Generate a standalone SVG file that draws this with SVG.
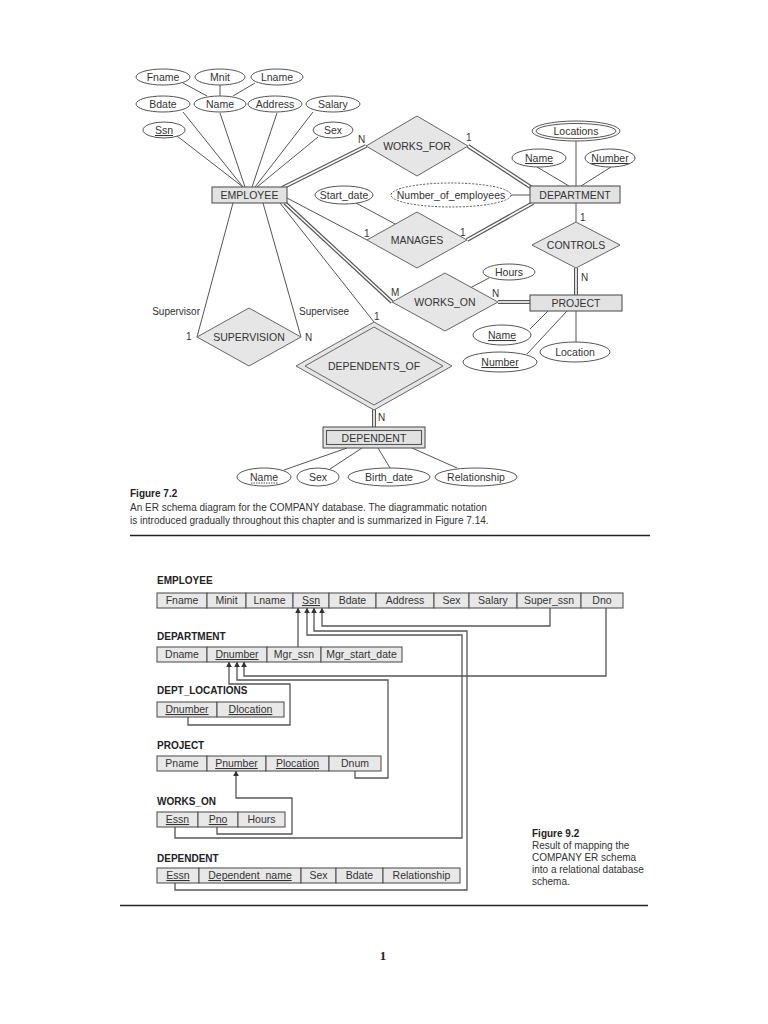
<svg xmlns="http://www.w3.org/2000/svg" width="768" height="1024" viewBox="0 0 768 1024">
<defs>
<marker id="arr" viewBox="0 0 10 10" refX="9" refY="5" markerWidth="6" markerHeight="6" markerUnits="userSpaceOnUse" orient="auto">
<path d="M0,0 L10,5 L0,10 z" fill="#333"/>
</marker>
<style>
text{font-family:"Liberation Sans",Arial,sans-serif;fill:#333;}
.t{font-size:10.5px;text-anchor:middle;}
.s{font-size:10px;}
.b{font-size:10px;font-weight:bold;fill:#222;}
.u{text-decoration:underline;}
.ln{stroke:#555;stroke-width:1;fill:none;}
.dbl{stroke:#555;stroke-width:4;fill:none;}
.dblw{stroke:#fff;stroke-width:1.6;fill:none;}
.ent{fill:#e2e2e2;stroke:#555;stroke-width:1.1;}
.rel{fill:#e6e6e6;stroke:#666;stroke-width:1;}
.att{fill:#fff;stroke:#555;stroke-width:1;}
.cell{fill:#e8e8e8;stroke:#555;stroke-width:1.1;}
.fk{stroke:#555;stroke-width:1.3;fill:none;marker-end:url(#arr);}
.rule{stroke:#222;stroke-width:1.5;}
</style>
</defs>
<rect width="768" height="1024" fill="#fff"/>

<!-- ER connectors -->
<g id="er-connectors">
<line class="ln" x1="183" y1="83" x2="207" y2="96"/>
<line class="ln" x1="220" y1="85" x2="220" y2="96"/>
<line class="ln" x1="255" y1="83" x2="233" y2="96"/>
<line class="ln" x1="183" y1="112" x2="243" y2="187"/>
<line class="ln" x1="220" y1="113" x2="245" y2="187"/>
<line class="ln" x1="277" y1="113" x2="252" y2="187"/>
<line class="ln" x1="313" y1="112" x2="255" y2="187"/>
<line class="ln" x1="177" y1="136" x2="243" y2="187"/>
<line class="ln" x1="318" y1="137" x2="257" y2="187"/>
<line class="dbl" x1="282" y1="188" x2="366" y2="146"/>
<line class="dblw" x1="282" y1="188" x2="366" y2="146"/>
<line class="dbl" x1="468" y1="146" x2="532" y2="188"/>
<line class="dblw" x1="468" y1="146" x2="532" y2="188"/>
<line class="ln" x1="576" y1="141" x2="576" y2="186"/>
<line class="ln" x1="537" y1="167" x2="569" y2="186"/>
<line class="ln" x1="611" y1="167" x2="581" y2="186"/>
<line class="ln" x1="511" y1="195" x2="530" y2="195"/>
<line class="ln" x1="287" y1="198" x2="367" y2="240"/>
<line class="ln" x1="356" y1="203" x2="397" y2="225"/>
<line class="dbl" x1="467" y1="240" x2="533" y2="203"/>
<line class="dblw" x1="467" y1="240" x2="533" y2="203"/>
<line class="ln" x1="576" y1="203" x2="576" y2="222"/>
<line class="dbl" x1="576" y1="268" x2="576" y2="295"/>
<line class="dblw" x1="576" y1="268" x2="576" y2="295"/>
<line class="dbl" x1="285" y1="203" x2="392" y2="302"/>
<line class="dblw" x1="285" y1="203" x2="392" y2="302"/>
<line class="ln" x1="280" y1="203" x2="374" y2="322"/>
<line class="ln" x1="489" y1="278" x2="470" y2="288"/>
<line class="dbl" x1="498" y1="302" x2="530" y2="302"/>
<line class="dblw" x1="498" y1="302" x2="530" y2="302"/>
<line class="ln" x1="530" y1="329" x2="548" y2="311"/>
<line class="ln" x1="527" y1="354" x2="567" y2="311"/>
<line class="ln" x1="576" y1="342" x2="576" y2="311"/>
<line class="ln" x1="233" y1="203" x2="197" y2="337"/>
<line class="ln" x1="263" y1="203" x2="301" y2="337"/>
<line class="dbl" x1="374" y1="408" x2="374" y2="427"/>
<line class="dblw" x1="374" y1="408" x2="374" y2="427"/>
<line class="ln" x1="284" y1="470" x2="347" y2="448"/>
<line class="ln" x1="330" y1="469" x2="362" y2="448"/>
<line class="ln" x1="390" y1="468" x2="378" y2="448"/>
<line class="ln" x1="457" y1="468" x2="412" y2="448"/>
</g>

<!-- attributes -->
<g id="attr-fname"><ellipse class="att" cx="163" cy="77" rx="27" ry="8"/><text class="t" x="163" y="81">Fname</text></g>
<g id="attr-minit"><ellipse class="att" cx="220" cy="77" rx="25" ry="8"/><text class="t" x="220" y="81">Mnit</text></g>
<g id="attr-lname"><ellipse class="att" cx="277" cy="77" rx="26" ry="8"/><text class="t" x="277" y="81">Lname</text></g>
<g id="attr-bdate"><ellipse class="att" cx="163" cy="104" rx="27" ry="8"/><text class="t" x="163" y="108">Bdate</text></g>
<g id="attr-name"><ellipse class="att" cx="220" cy="104" rx="26" ry="8"/><text class="t" x="220" y="108">Name</text></g>
<g id="attr-address"><ellipse class="att" cx="275" cy="104" rx="27" ry="8"/><text class="t" x="275" y="108">Address</text></g>
<g id="attr-salary"><ellipse class="att" cx="333" cy="104" rx="27" ry="8"/><text class="t" x="333" y="108">Salary</text></g>
<g id="attr-ssn"><ellipse class="att" cx="164" cy="130" rx="21" ry="8"/><text class="t u" x="164" y="134">Ssn</text></g>
<g id="attr-sex"><ellipse class="att" cx="333" cy="130" rx="20" ry="8"/><text class="t" x="333" y="134">Sex</text></g>
<g id="attr-startdate"><ellipse class="att" cx="344" cy="195" rx="29" ry="9"/><text class="t" x="344" y="199">Start_date</text></g>
<g id="attr-locations"><ellipse class="att" cx="576" cy="131" rx="44" ry="10"/><ellipse class="att" cx="576" cy="131" rx="40" ry="7.5"/><text class="t" x="576" y="135">Locations</text></g>
<g id="attr-dname"><ellipse class="att" cx="539" cy="158" rx="27" ry="9"/><text class="t u" x="539" y="162">Name</text></g>
<g id="attr-dnumber"><ellipse class="att" cx="610" cy="158" rx="25" ry="9"/><text class="t u" x="610" y="162">Number</text></g>
<g id="attr-numemp"><ellipse class="att" cx="451" cy="195" rx="60" ry="12" stroke-dasharray="2,1.5"/><text class="t" x="451" y="199">Number_of_employees</text></g>
<g id="attr-hours"><ellipse class="att" cx="509" cy="272" rx="26" ry="8"/><text class="t" x="509" y="276">Hours</text></g>
<g id="attr-pname"><ellipse class="att" cx="502" cy="335" rx="29" ry="10"/><text class="t u" x="502" y="339">Name</text></g>
<g id="attr-pnumber"><ellipse class="att" cx="500" cy="362" rx="37" ry="10"/><text class="t u" x="500" y="366">Number</text></g>
<g id="attr-plocation"><ellipse class="att" cx="575" cy="352" rx="35" ry="10"/><text class="t" x="575" y="356">Location</text></g>
<g id="attr-depname"><ellipse class="att" cx="264" cy="477" rx="27" ry="9"/><text class="t" x="264" y="481">Name</text><line x1="251" y1="483" x2="278" y2="483" stroke="#444" stroke-width="0.9" stroke-dasharray="1.5,1"/></g>
<g id="attr-depsex"><ellipse class="att" cx="318" cy="477" rx="21" ry="9"/><text class="t" x="318" y="481">Sex</text></g>
<g id="attr-birthdate"><ellipse class="att" cx="389" cy="477" rx="41" ry="9"/><text class="t" x="389" y="481">Birth_date</text></g>
<g id="attr-relationship"><ellipse class="att" cx="476" cy="477" rx="41" ry="9"/><text class="t" x="476" y="481">Relationship</text></g>

<!-- entities -->
<g id="employee"><rect class="ent" x="212" y="187" width="75" height="16"/><text class="t" x="249.5" y="199">EMPLOYEE</text></g>
<g id="department"><rect class="ent" x="530" y="186" width="90" height="17"/><text class="t" x="575" y="198.5">DEPARTMENT</text></g>
<g id="project"><rect class="ent" x="530" y="295" width="92" height="16"/><text class="t" x="576" y="307">PROJECT</text></g>
<g id="dependent"><rect class="ent" x="323" y="427" width="102" height="21"/><rect class="ent" x="326.5" y="430.5" width="95" height="14"/><text class="t" x="374" y="441.5">DEPENDENT</text></g>

<!-- relationships -->
<g id="works-for"><polygon class="rel" points="366,146 417,116 468,146 417,176"/><text class="t" x="417" y="150">WORKS_FOR</text></g>
<g id="manages"><polygon class="rel" points="367,240 417,212 467,240 417,268"/><text class="t" x="417" y="244">MANAGES</text></g>
<g id="controls"><polygon class="rel" points="532,245 576,222 620,245 576,268"/><text class="t" x="576" y="249">CONTROLS</text></g>
<g id="works-on"><polygon class="rel" points="392,302 445,273 498,302 445,331"/><text class="t" x="445" y="306">WORKS_ON</text></g>
<g id="supervision"><polygon class="rel" points="197,337 249,308 301,337 249,366"/><text class="t" x="249" y="341">SUPERVISION</text></g>
<g id="dependents-of"><polygon class="rel" points="296,366 374,322 452,366 374,410"/><polygon class="rel" points="305,366 374,327 443,366 374,405"/><text class="t" x="374" y="370">DEPENDENTS_OF</text></g>

<!-- cardinality and role labels -->
<g id="er-labels">
<text class="s" x="358" y="143">N</text>
<text class="s" x="466" y="141">1</text>
<text class="s" x="364" y="237">1</text>
<text class="s" x="460" y="236">1</text>
<text class="s" x="580" y="221">1</text>
<text class="s" x="581" y="281">N</text>
<text class="s" x="391" y="296">M</text>
<text class="s" x="492" y="297">N</text>
<text class="s" x="374" y="320">1</text>
<text class="s" x="378" y="421">N</text>
<text class="s" x="200" y="315" text-anchor="end">Supervisor</text>
<text class="s" x="186" y="340">1</text>
<text class="s" x="299" y="315">Supervisee</text>
<text class="s" x="305" y="341">N</text>
</g>

<!-- caption 7.2 -->
<g id="caption-7-2">
<text class="b" x="130" y="497">Figure 7.2</text>
<text class="s" x="130" y="511">An ER schema diagram for the COMPANY database. The diagrammatic notation</text>
<text class="s" x="130" y="524">is introduced gradually throughout this chapter and is summarized in Figure 7.14.</text>
<line class="rule" x1="130" y1="535.5" x2="650" y2="535.5"/>
</g>

<!-- relational schema -->
<g id="rel-connectors">
<path class="fk" d="M298,647 V608"/>
<path class="fk" d="M550,608 V626 H322 V608"/>
<path class="fk" d="M175,827 V838 H462 V635 H307 V608"/>
<path class="fk" d="M175,883 V890 H467 V631 H314 V608"/>
<path class="fk" d="M606,608 V676 H244 V662"/>
<path class="fk" d="M355,771 V778 H388 V680 H237 V662"/>
<path class="fk" d="M188,717 V725 H290 V684 H229 V662"/>
<path class="fk" d="M217,827 V834 H292 V798 H236 V771"/>
</g>

<g id="t-employee">
<text class="b" x="157" y="584">EMPLOYEE</text>
<rect class="cell" x="157" y="593" width="50" height="15"/><text class="t" x="182" y="604">Fname</text>
<rect class="cell" x="207" y="593" width="39" height="15"/><text class="t" x="226.5" y="604">Minit</text>
<rect class="cell" x="246" y="593" width="47" height="15"/><text class="t" x="269.5" y="604">Lname</text>
<rect class="cell" x="293" y="593" width="36" height="15"/><text class="t u" x="311" y="604">Ssn</text>
<rect class="cell" x="329" y="593" width="47" height="15"/><text class="t" x="352.5" y="604">Bdate</text>
<rect class="cell" x="376" y="593" width="58" height="15"/><text class="t" x="405" y="604">Address</text>
<rect class="cell" x="434" y="593" width="35" height="15"/><text class="t" x="451.5" y="604">Sex</text>
<rect class="cell" x="469" y="593" width="48" height="15"/><text class="t" x="493" y="604">Salary</text>
<rect class="cell" x="517" y="593" width="64" height="15"/><text class="t" x="549" y="604">Super_ssn</text>
<rect class="cell" x="581" y="593" width="42" height="15"/><text class="t" x="602" y="604">Dno</text>
</g>

<g id="t-department">
<text class="b" x="157" y="640">DEPARTMENT</text>
<rect class="cell" x="157" y="647" width="50" height="15"/><text class="t" x="182" y="658">Dname</text>
<rect class="cell" x="207" y="647" width="60" height="15"/><text class="t u" x="237" y="658">Dnumber</text>
<rect class="cell" x="267" y="647" width="54" height="15"/><text class="t" x="294" y="658">Mgr_ssn</text>
<rect class="cell" x="321" y="647" width="81" height="15"/><text class="t" x="361.5" y="658">Mgr_start_date</text>
</g>

<g id="t-dept-locations">
<text class="b" x="157" y="694">DEPT_LOCATIONS</text>
<rect class="cell" x="157" y="702" width="60" height="15"/><text class="t u" x="187" y="713">Dnumber</text>
<rect class="cell" x="217" y="702" width="67" height="15"/><text class="t u" x="250.5" y="713">Dlocation</text>
</g>

<g id="t-project">
<text class="b" x="157" y="749">PROJECT</text>
<rect class="cell" x="157" y="756" width="50" height="15"/><text class="t" x="182" y="767">Pname</text>
<rect class="cell" x="207" y="756" width="59" height="15"/><text class="t u" x="236.5" y="767">Pnumber</text>
<rect class="cell" x="266" y="756" width="63" height="15"/><text class="t u" x="297.5" y="767">Plocation</text>
<rect class="cell" x="329" y="756" width="52" height="15"/><text class="t" x="355" y="767">Dnum</text>
</g>

<g id="t-works-on">
<text class="b" x="157" y="805">WORKS_ON</text>
<rect class="cell" x="157" y="812" width="41" height="15"/><text class="t u" x="177.5" y="823">Essn</text>
<rect class="cell" x="198" y="812" width="40" height="15"/><text class="t u" x="218" y="823">Pno</text>
<rect class="cell" x="238" y="812" width="47" height="15"/><text class="t" x="261.5" y="823">Hours</text>
</g>

<g id="t-dependent">
<text class="b" x="157" y="862">DEPENDENT</text>
<rect class="cell" x="157" y="868" width="42" height="15"/><text class="t u" x="178" y="879">Essn</text>
<rect class="cell" x="199" y="868" width="102" height="15"/><text class="t u" x="250" y="879">Dependent_name</text>
<rect class="cell" x="301" y="868" width="35" height="15"/><text class="t" x="318.5" y="879">Sex</text>
<rect class="cell" x="336" y="868" width="47" height="15"/><text class="t" x="359.5" y="879">Bdate</text>
<rect class="cell" x="383" y="868" width="77" height="15"/><text class="t" x="421.5" y="879">Relationship</text>
</g>

<g id="caption-9-2">
<text class="b" x="532" y="837">Figure 9.2</text>
<text class="s" x="532" y="849">Result of mapping the</text>
<text class="s" x="532" y="861">COMPANY ER schema</text>
<text class="s" x="532" y="873">into a relational database</text>
<text class="s" x="532" y="885">schema.</text>
<line class="rule" x1="120" y1="905.5" x2="648" y2="905.5"/>
</g>

<text x="383" y="960" text-anchor="middle" style="font-family:'Liberation Serif','Times New Roman',serif;font-size:13px;font-weight:bold;fill:#222;">1</text>
</svg>
